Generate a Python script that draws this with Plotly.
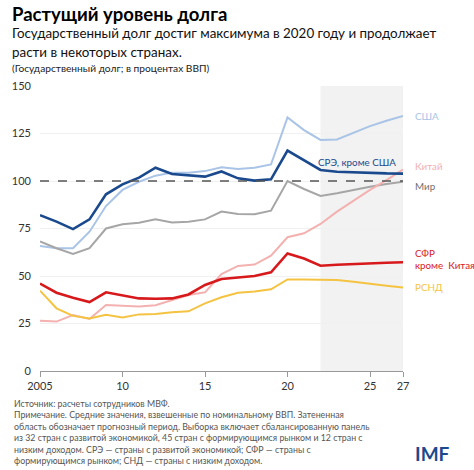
import plotly.graph_objects as go

years = list(range(2005, 2028))

usa = [65.8, 64.6, 64.6, 73.3, 86.8, 95.3, 99.6, 102.8, 104.4, 104.4, 105.2, 107.2, 106.3,
       107.0, 108.7, 133.5, 126.8, 121.6, 121.9, 125.4, 128.9, 131.7, 134.2]
ae_ex_us = [82.0, 78.6, 74.7, 79.8, 93.0, 98.2, 101.8, 107.0, 103.7, 103.0, 102.3, 105.0, 101.4,
            100.2, 100.9, 116.0, 111.0, 105.8, 104.9, 104.5, 104.3, 104.0, 103.9]
world = [68.2, 64.6, 61.6, 64.6, 75.0, 77.2, 78.0, 79.8, 78.2, 78.6, 79.8, 83.9, 82.6,
         82.5, 84.4, 100.0, 95.8, 92.1, 93.5, 95.3, 97.0, 98.4, 99.6]
china = [26.5, 26.0, 29.5, 27.4, 34.7, 34.2, 33.9, 34.6, 37.4, 40.0, 41.4, 51.0, 55.3,
         56.0, 60.7, 70.4, 72.5, 77.4, 83.9, 89.6, 95.3, 100.5, 106.0]
em_ex_cn = [46.0, 41.2, 38.6, 36.3, 41.4, 39.8, 38.2, 38.0, 38.2, 40.3, 45.3, 48.4, 49.3,
            50.0, 51.9, 61.9, 59.2, 55.4, 55.9, 56.3, 56.8, 57.0, 57.2]
lidc = [42.3, 33.0, 29.0, 27.7, 29.6, 28.2, 29.8, 30.0, 30.9, 31.4, 35.6, 38.8, 41.2,
        41.8, 43.0, 48.2, 48.2, 48.0, 47.9, 47.0, 45.8, 44.9, 44.0]

tick_vals = [2005, 2010, 2015, 2020, 2025, 2027]
tick_text = ["2005", "10", "15", "20", "25", "27"]
y_ticks = [0, 25, 50, 75, 100, 125, 150]

C_USA = "#a9c4e6"
C_AE = "#1a4a8d"
C_WORLD = "#a6a6a6"
C_CHINA = "#f3b1b0"
C_EM = "#d7191c"
C_LIDC = "#f5c342"

FONT = "Lato"
W, H = 474, 470
L, R, T, B = 35, 71, 86, 99
PW, PH = W - L - R, H - T - B


def px(x):
    return (x - L) / PW


def py(y):
    return (H - B - y) / PH


fig = go.Figure()
series = [
    (usa, C_USA, 2.0, "США"),
    (world, C_WORLD, 2.0, "Мир"),
    (china, C_CHINA, 2.0, "Китай"),
    (lidc, C_LIDC, 2.0, "РСНД"),
    (em_ex_cn, C_EM, 2.6, "СФР кроме Китая"),
    (ae_ex_us, C_AE, 2.6, "СРЭ, кроме США"),
]
for vals, col, w, name in series:
    fig.add_trace(go.Scatter(x=years, y=vals, mode="lines", name=name,
                             line=dict(color=col, width=w), showlegend=False,
                             hoverinfo="skip"))

fig.add_shape(type="rect", x0=2022, x1=2027, xref="x", y0=0, y1=1, yref="paper",
              fillcolor="#f2f2f2", line=dict(width=0), layer="below")
fig.add_shape(type="line", x0=2005, x1=2027, xref="x", y0=100, y1=100, yref="y",
              line=dict(color="#555555", width=1.3, dash="dash"), layer="above")

ann = []


def text(x, y, s, size, color, bold=False, anchor="left", yanchor="middle"):
    ann.append(dict(x=px(x), y=py(y), xref="paper", yref="paper", text=s,
                    showarrow=False, xanchor=anchor, yanchor=yanchor, align="left",
                    font=dict(family=FONT, size=size, color=color,
                              weight="bold" if bold else "normal")))


text(5, 14, "Растущий уровень долга", 18.5, "#000000", bold=True)
text(5, 33, "Государственный долг достиг максимума в 2020 году и продолжает", 13.4, "#111111")
text(5, 52, "расти в некоторых странах.", 13.4, "#111111")
text(5, 68, "(Государственный долг; в процентах ВВП)", 10.2, "#222222")

LS = 9.8
text(413, 116, "США", LS, C_USA)
text(315, 162, "СРЭ, кроме США", LS, C_AE)
text(413, 166, "Китай", LS, C_CHINA)
text(413, 186, "Мир", LS, "#707070")
text(413, 253, "СФР", LS, C_EM)
text(413, 265, "кроме  Китая", LS, C_EM)
text(413, 287, "РСНД", LS, C_LIDC)

footer = ("Источник: расчеты сотрудников МВФ.<br>"
          "Примечание. Средние значения, взвешенные по номинальному ВВП. Затененная<br>"
          "область обозначает прогнозный период. Выборка включает сбалансированную панель<br>"
          "из 32 стран с развитой экономикой, 45 стран с формирующимся рынком и 12 стран с<br>"
          "низким доходом. СРЭ — страны с развитой экономикой; СФР — страны с<br>"
          "формирующимся рынком; СНД — страны с низким доходом.")
ann.append(dict(x=px(7), y=py(396), xref="paper", yref="paper", text=footer,
                showarrow=False, xanchor="left", yanchor="top", align="left",
                font=dict(family=FONT, size=8.8, color="#555555")))

text(433, 453, "IMF", 19, "#1a4a8d", bold=True, anchor="center")

fig.update_layout(
    width=W, height=H,
    margin=dict(l=L, r=R, t=T, b=B),
    paper_bgcolor="white", plot_bgcolor="white",
    font=dict(family=FONT, size=11, color="#333333"),
    annotations=ann,
    xaxis=dict(range=[2005, 2027], tickvals=tick_vals, ticktext=tick_text,
               showgrid=False, zeroline=False, showline=True, linecolor="#999999",
               linewidth=1, ticks="outside", ticklen=5, tickcolor="#999999",
               tickfont=dict(size=11, color="#333333")),
    yaxis=dict(range=[0, 150], tickvals=y_ticks, showgrid=True, gridcolor="#f0f0f0",
               zeroline=False, showline=False, ticks="", ticklabelstandoff=8,
               tickfont=dict(size=11, color="#333333")),
)

fig.write_html("out.html", config={"displayModeBar": False},
               post_script="document.body.style.margin='0';")
